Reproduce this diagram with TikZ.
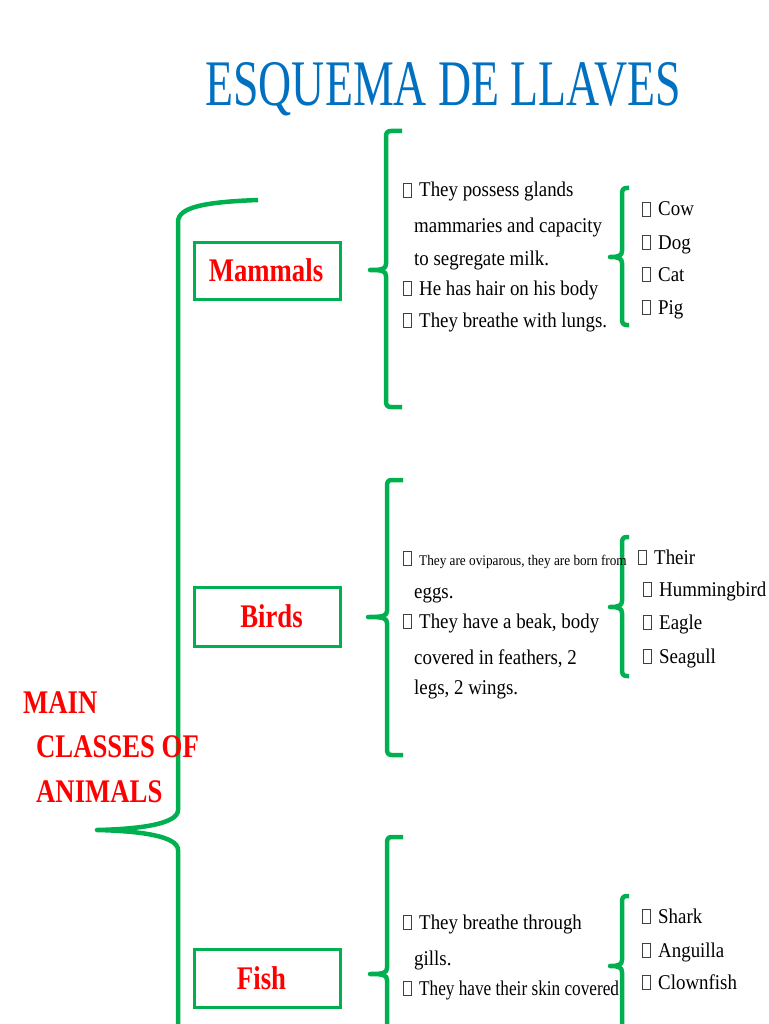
\documentclass[tikz,border=0pt]{standalone}
\usepackage{fontspec}
\setmainfont{Liberation Serif}
\newfontfamily\titlefont{Liberation Serif}[FakeStretch=0.705]
\newfontfamily\bodyfont{Liberation Serif}[FakeStretch=0.9]
\newfontfamily\labelfont{Liberation Serif}[FakeStretch=0.81]
\newfontfamily\condfont{Liberation Serif}[FakeStretch=0.82]
\definecolor{grn}{HTML}{00B050}
\definecolor{ttlblue}{HTML}{0070C0}
\definecolor{lblred}{HTML}{FF0000}
\newcommand\tofu{{\color{black!75}\setlength\fboxsep{0pt}\setlength\fboxrule{0.6pt}\framebox[8.5pt][c]{\rule{0pt}{13.5pt}}}}
\newcommand\bul{\tofu\hspace{7.5pt}}
% #1 x of vertical, #2 top y, #3 tip y, #4 bottom y, #5 tip x, #6 end bar length
\newcommand\grpbrace[6]{%
  \draw[brace] (#1+#6,#2) -- (#1+5,#2) .. controls (#1+1,#2) and (#1,#2+2) .. (#1,#2+6)
    -- (#1,#3-6) .. controls (#1,#3-1) and (#1-4,#3) .. (#5,#3)
    .. controls (#1-4,#3) and (#1,#3+1) .. (#1,#3+6)
    -- (#1,#4-6) .. controls (#1,#4-2) and (#1+1,#4) .. (#1+5,#4) -- (#1+#6,#4);}
\tikzset{
  brace/.style={draw=grn, line width=4.5pt, line join=round},
  classbox/.style={draw=grn, line width=3pt, minimum width=146pt, inner sep=0pt,
    text=lblred, font=\labelfont\bfseries\fontsize{33}{36}\selectfont},
  mainlabel/.style={anchor=base west, inner sep=0pt, text=lblred,
    font=\labelfont\bfseries\fontsize{33}{36}\selectfont},
  body/.style={anchor=base west, inner sep=0pt, font=\bodyfont\fontsize{21}{24}\selectfont},
  smallbody/.style={anchor=base west, inner sep=0pt, font=\bodyfont\fontsize{14.7}{17}\selectfont},
  condbody/.style={anchor=base west, inner sep=0pt, font=\condfont\fontsize{21}{24}\selectfont},
  title/.style={anchor=base, inner sep=0pt, text=ttlblue, font=\titlefont\fontsize{65}{70}\selectfont}
}
\begin{document}
\begin{tikzpicture}[x=1pt,y=-1pt]
\useasboundingbox (0,0) rectangle (768,1024);
\fill[white] (0,0) rectangle (768,1024);

\node[title] (title) at (443,106) {ESQUEMA DE LLAVES};

% main brace
\draw[brace] (258,200) .. controls (205,202) and (178,207) .. (178,222) -- (178,810)
  .. controls (178,824) and (140,829) .. (97,830)
  .. controls (140,831) and (178,836) .. (178,850) -- (178,1040);

\node[mainlabel] (main1) at (23,713) {MAIN};
\node[mainlabel] (main2) at (36,757) {CLASSES OF};
\node[mainlabel] (main3) at (36,802) {ANIMALS};

% class boxes
\node[classbox, minimum height=57pt] (mammals) at (267.5,270.5) {Mammals\kern3pt};
\node[classbox, minimum height=59pt] (birds) at (267.5,616.5) {\kern8pt Birds};
\node[classbox, minimum height=58pt] (fish) at (267.5,978) {Fish\kern12pt};

% group braces
\grpbrace{386}{131}{270}{407}{370}{16}
\grpbrace{387}{480}{617}{755}{368}{16}
\grpbrace{387}{837}{974}{1045}{370}{16}
\grpbrace{622}{188}{257}{325}{610}{7}
\grpbrace{622}{537}{607}{676}{610}{7}
\grpbrace{622}{896}{966}{1045}{610}{7}

% mammals text
\node[body] (m1) at (403,197) {\bul They possess glands};
\node[body] (m2) at (414,233) {mammaries and capacity};
\node[body] (m3) at (414,265) {to segregate milk.};
\node[body] (m4) at (403,295) {\bul He has hair on his body};
\node[body] (m5) at (403,327) {\bul They breathe with lungs.};
\node[body] (mc) at (642,216) {\bul Cow};
\node[body] (md) at (642,249) {\bul Dog};
\node[body] (mt) at (642,281) {\bul Cat};
\node[body] (mp) at (642,314) {\bul Pig};

% birds text
\node[smallbody] (b1) at (403,565) {\bul They are oviparous, they are born from};
\node[body] (b2) at (414,598) {eggs.};
\node[body] (b3) at (403,628) {\bul They have a beak, body};
\node[body] (b4) at (414,664) {covered in feathers, 2};
\node[body] (b5) at (414,694) {legs, 2 wings.};
\node[body] (bt) at (638,564) {\bul Their};
\node[body] (bh) at (643,596) {\bul Hummingbird};
\node[body] (be) at (643,629) {\bul Eagle};
\node[body] (bs) at (643,663) {\bul Seagull};

% fish text
\node[body] (f1) at (403,929) {\bul They breathe through};
\node[body] (f2) at (414,965) {gills.};
\node[condbody] (f3) at (403,995) {\bul They have their skin covered};
\node[body] (fs) at (642,923) {\bul Shark};
\node[body] (fa) at (642,957) {\bul Anguilla};
\node[body] (fc) at (642,989) {\bul Clownfish};
\end{tikzpicture}
\end{document}
